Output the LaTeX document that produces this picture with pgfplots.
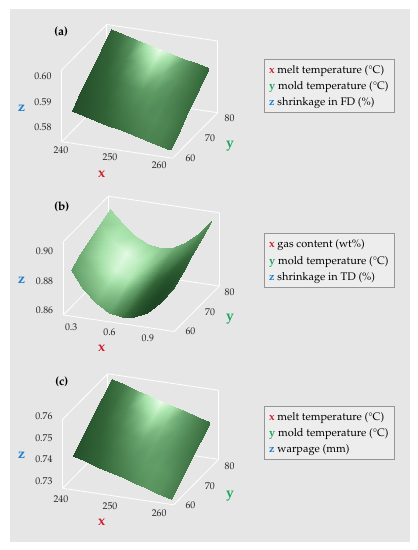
\documentclass[border=0pt]{standalone}
\usepackage[T1]{fontenc}
\renewcommand{\rmdefault}{ppl}
\usepackage{pgfplots}
\pgfplotsset{compat=1.18}
\definecolor{xred}{RGB}{205,25,40}
\definecolor{ygreen}{RGB}{25,165,90}
\definecolor{zblue}{RGB}{30,125,205}
\definecolor{bg}{RGB}{230,230,230}
\definecolor{lgb}{RGB}{150,150,150}
\pgfplotsset{
  colormap={surfgreen}{rgb255(0cm)=(25,60,30); rgb255(2.5cm)=(50,100,55); rgb255(5cm)=(100,160,105); rgb255(7.5cm)=(165,225,168); rgb255(10cm)=(235,255,235)},
  myaxis/.style={
    anchor=south west,
    axis line style={white, line width=0.8pt},
    major tick length=0pt,
    tick style={draw=none},
    clip=false,
    ticklabel style={font=\fontsize{9.8}{10}\selectfont, text=black!85, inner sep=0pt},
    colormap name=surfgreen,
    point meta min=0, point meta max=1,
    ymin=58.5, ymax=81.5,
    ytick={60,70,80}, yticklabels={60,70,80},
    y={(1.9565pt,1.9783pt)},
    zticklabel style={anchor=east, xshift=-10pt, yshift=3pt},
  },
}
\begin{document}
\begin{tikzpicture}
\useasboundingbox (0pt,0pt) rectangle (418pt,550pt);
\fill[white] (0pt,0pt) rectangle (418pt,550pt);
\fill[bg] (10pt,8pt) rectangle (410pt,541pt);

% ---------- (a)
\begin{axis}[myaxis,
  at={(61.7pt,391.8pt)},
  x={(4.9115pt,-0.7301pt)}, z={(0pt,2533.6pt)},
  xmin=238.6, xmax=261.2, zmin=0.5755, zmax=0.6038,
  xtick={240,250,260}, xticklabels={240,250,260},
  ztick={0.58,0.59,0.60}, zticklabels={0.58,0.59,0.60},
  xticklabel style={anchor=center, xshift=-7.7pt, yshift=-7.5pt},
  yticklabel style={anchor=center, xshift=14.8pt, yshift=-2.7pt},
]
\addplot3[surf, shader=interp, mesh/rows=5, mesh/cols=9, point meta=explicit] table[meta=c] {
x y z c
240 60 0.58690 0.10
242.5 60 0.58569 0.15
245 60 0.58449 0.20
247.5 60 0.58328 0.25
250 60 0.58207 0.30
252.5 60 0.58086 0.35
255 60 0.57966 0.38
257.5 60 0.57845 0.37
260 60 0.57724 0.30
240 65 0.59105 0.13
242.5 65 0.58984 0.18
245 65 0.58864 0.24
247.5 65 0.58743 0.31
250 65 0.58622 0.37
252.5 65 0.58501 0.41
255 65 0.58381 0.42
257.5 65 0.58260 0.38
260 65 0.58139 0.30
240 70 0.59520 0.16
242.5 70 0.59399 0.22
245 70 0.59279 0.30
247.5 70 0.59158 0.40
250 70 0.59037 0.47
252.5 70 0.58916 0.47
255 70 0.58796 0.42
257.5 70 0.58675 0.35
260 70 0.58554 0.28
240 75 0.59935 0.20
242.5 75 0.59814 0.27
245 75 0.59694 0.38
247.5 75 0.59573 0.58
250 75 0.59452 0.72
252.5 75 0.59331 0.60
255 75 0.59211 0.46
257.5 75 0.59090 0.35
260 75 0.58969 0.27
240 80 0.60350 0.24
242.5 80 0.60229 0.32
245 80 0.60109 0.48
247.5 80 0.59988 0.80
250 80 0.59867 1.00
252.5 80 0.59746 0.78
255 80 0.59626 0.50
257.5 80 0.59505 0.35
260 80 0.59384 0.25
};
\end{axis}

% ---------- (b)
\begin{axis}[myaxis,
  at={(63.3pt,218.5pt)},
  x={(127.59pt,-18.966pt)}, z={(0pt,1474.8pt)},
  xmin=0.165, xmax=1.035, zmin=0.8591, zmax=0.9088,
  xtick={0.3,0.6,0.9}, xticklabels={0.3,0.6,0.9},
  ztick={0.86,0.88,0.90}, zticklabels={0.86,0.88,0.90},
  xticklabel style={anchor=center, xshift=-9.3pt, yshift=-9.2pt},
  yticklabel style={anchor=center, xshift=13.2pt, yshift=-3pt},
]
\addplot3[surf, shader=interp, mesh/rows=5, mesh/cols=9, point meta=explicit] table[meta=c] {
x y z c
0.2 60 0.8882 0.48
0.3 60 0.8766 0.52
0.4 60 0.8681 0.55
0.5 60 0.8630 0.48
0.6 60 0.8610 0.30
0.7 60 0.8623 0.12
0.8 60 0.8668 0.05
0.9 60 0.8746 0.07
1.0 60 0.8856 0.16
0.2 65 0.8919 0.54
0.3 65 0.8808 0.64
0.4 65 0.8728 0.70
0.5 65 0.8679 0.60
0.6 65 0.8662 0.38
0.7 65 0.8676 0.16
0.8 65 0.8721 0.07
0.9 65 0.8797 0.09
1.0 65 0.8905 0.18
0.2 70 0.8956 0.60
0.3 70 0.8850 0.78
0.4 70 0.8774 0.92
0.5 70 0.8729 0.80
0.6 70 0.8713 0.52
0.7 70 0.8728 0.26
0.8 70 0.8773 0.16
0.9 70 0.8849 0.18
1.0 70 0.8954 0.26
0.2 75 0.8992 0.66
0.3 75 0.8892 0.82
0.4 75 0.8821 0.96
0.5 75 0.8778 0.85
0.6 75 0.8765 0.65
0.7 75 0.8781 0.42
0.8 75 0.8826 0.34
0.9 75 0.8900 0.32
1.0 75 0.9002 0.36
0.2 80 0.9029 0.72
0.3 80 0.8934 0.74
0.4 80 0.8867 0.74
0.5 80 0.8827 0.72
0.6 80 0.8816 0.66
0.7 80 0.8833 0.56
0.8 80 0.8878 0.50
0.9 80 0.8951 0.46
1.0 80 0.9051 0.42
};
\end{axis}

% ---------- (c)
\begin{axis}[myaxis,
  at={(62.7pt,45.2pt)},
  x={(4.9115pt,-0.7301pt)}, z={(0pt,2143pt)},
  xmin=238.6, xmax=261.2, zmin=0.7279, zmax=0.7601,
  xtick={240,250,260}, xticklabels={240,250,260},
  ztick={0.73,0.74,0.75,0.76}, zticklabels={0.73,0.74,0.75,0.76},
  xticklabel style={anchor=center, xshift=-8.7pt, yshift=-9.5pt},
  yticklabel style={anchor=center, xshift=13.8pt, yshift=-3.8pt},
]
\addplot3[surf, shader=interp, mesh/rows=5, mesh/cols=9, point meta=explicit] table[meta=c] {
x y z c
240 60 0.74220 0.12
242.5 60 0.74052 0.18
245 60 0.73884 0.24
247.5 60 0.73716 0.30
250 60 0.73548 0.36
252.5 60 0.73380 0.42
255 60 0.73212 0.46
257.5 60 0.73044 0.44
260 60 0.72876 0.36
240 65 0.74654 0.15
242.5 65 0.74486 0.21
245 65 0.74318 0.28
247.5 65 0.74150 0.36
250 65 0.73982 0.43
252.5 65 0.73814 0.48
255 65 0.73646 0.49
257.5 65 0.73478 0.44
260 65 0.73310 0.35
240 70 0.75088 0.18
242.5 70 0.74920 0.25
245 70 0.74752 0.34
247.5 70 0.74584 0.45
250 70 0.74416 0.53
252.5 70 0.74248 0.53
255 70 0.74080 0.48
257.5 70 0.73912 0.40
260 70 0.73744 0.32
240 75 0.75522 0.22
242.5 75 0.75354 0.29
245 75 0.75186 0.42
247.5 75 0.75018 0.60
250 75 0.74850 0.74
252.5 75 0.74682 0.63
255 75 0.74514 0.50
257.5 75 0.74346 0.39
260 75 0.74178 0.30
240 80 0.75956 0.26
242.5 80 0.75788 0.34
245 80 0.75620 0.50
247.5 80 0.75452 0.82
250 80 0.75284 1.00
252.5 80 0.75116 0.78
255 80 0.74948 0.52
257.5 80 0.74780 0.38
260 80 0.74612 0.28
};
\end{axis}

% ---------- panel letters and axis names
\begin{scope}[every node/.style={inner sep=0pt}]
\node[font=\fontsize{12}{13}\selectfont\bfseries] at (61pt,518pt) {(a)};
\node[font=\fontsize{12}{13}\selectfont\bfseries] at (61.7pt,342.7pt) {(b)};
\node[font=\fontsize{12}{13}\selectfont\bfseries] at (61.7pt,168.3pt) {(c)};
\foreach \zy/\xy/\yy in {441.7/376/404, 270/201.7/230.7, 95/28.3/54}{
  \node[font=\fontsize{14}{15}\selectfont\bfseries, text=zblue] at (21.7pt,\zy pt) {z};
  \node[font=\fontsize{14}{15}\selectfont\bfseries, text=xred] at (101.7pt,\xy pt) {x};
  \node[font=\fontsize{14}{15}\selectfont\bfseries, text=ygreen] at (230pt,\yy pt) {y};
}
\end{scope}

% ---------- legends
\begin{scope}[every node/.style={inner sep=0pt, anchor=west, font=\fontsize{11}{12}\selectfont}]
\draw[lgb, fill=bg!70!white, line width=0.7pt] (264pt,438pt) rectangle (394pt,491pt);
\node at (269pt,479pt) {\textcolor{xred}{\textbf{x}} melt temperature (\textdegree C)};
\node at (269pt,463pt) {\textcolor{ygreen}{\textbf{y}} mold temperature (\textdegree C)};
\node at (269pt,447pt) {\textcolor{zblue}{\textbf{z}} shrinkage in FD (\%)};

\draw[lgb, fill=bg!70!white, line width=0.7pt] (264pt,263pt) rectangle (394pt,317pt);
\node at (269pt,305pt) {\textcolor{xred}{\textbf{x}} gas content (wt\%)};
\node at (269pt,288pt) {\textcolor{ygreen}{\textbf{y}} mold temperature (\textdegree C)};
\node at (269pt,272pt) {\textcolor{zblue}{\textbf{z}} shrinkage in TD (\%)};

\draw[lgb, fill=bg!70!white, line width=0.7pt] (264pt,91pt) rectangle (394pt,144pt);
\node at (269pt,132pt) {\textcolor{xred}{\textbf{x}} melt temperature (\textdegree C)};
\node at (269pt,116pt) {\textcolor{ygreen}{\textbf{y}} mold temperature (\textdegree C)};
\node at (269pt,100pt) {\textcolor{zblue}{\textbf{z}} warpage (mm)};
\end{scope}
\end{tikzpicture}
\end{document}
